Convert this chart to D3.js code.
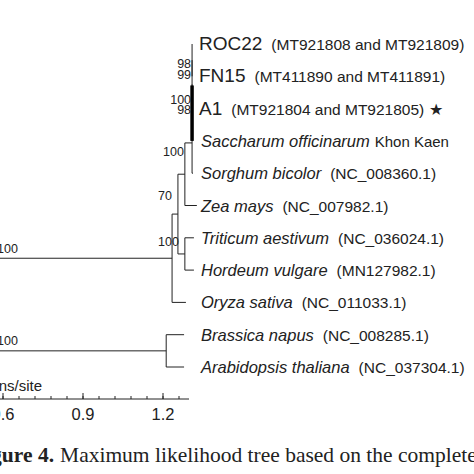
<!DOCTYPE html>
<html><head><meta charset="utf-8">
<script src="https://cdn.jsdelivr.net/npm/d3@7"></script>
<style>body{margin:0;background:#fff}svg{display:block}</style>
</head><body><svg id="c" width="474" height="474"></svg>
<script>
// tips (top to bottom)
const tipNames = ["ROC22","FN15","A1","Saccharum officinarum","Sorghum bicolor","Zea mays","Triticum aestivum","Hordeum vulgare","Oryza sativa","Brassica napus","Arabidopsis thaliana"];
const tipItalic = [false,false,false,true,true,true,true,true,true,true,true];
const tipSuffix = ["(MT921808 and MT921809)","(MT411890 and MT411891)","(MT921804 and MT921805) \u2605","Khon Kaen","(NC_008360.1)","(NC_007982.1)","(NC_036024.1)","(MN127982.1)","(NC_011033.1)","(NC_008285.1)","(NC_037304.1)"];
const tipX = [1.309,1.309,1.309,1.309,1.3125,1.327,1.316,1.316,1.286,1.279,1.279];
// internal nodes
const nodeNames = ["n1","n2","n3","nA","nB","nT","nC","nD","nBr","root"];
const nodeX     = [1.309,1.309,1.309,1.309,1.282,1.282,1.256,1.234,1.212,0.5];
const nodeKids  = [["ROC22","FN15"],["n1","A1"],["n2","Saccharum officinarum"],["n3","Sorghum bicolor"],["nA","Zea mays"],["Triticum aestivum","Hordeum vulgare"],["nB","nT"],["nC","Oryza sativa"],["Brassica napus","Arabidopsis thaliana"],["nD","nBr"]];
const nodeBoot  = ["98","99","100","98","100","100","70","100","100",""];
const axisTicks = [0.6,0.9,1.2];

const svg = d3.select("#c");
const x = d3.scaleLinear().domain([0.6,1.2]).range([3,163]);
const y = d3.scaleLinear().domain([0,10]).range([44,367]);

const pos = {};
tipNames.forEach((n,i)=>pos[n]={x:tipX[i],y:y(i)});
nodeNames.forEach((n,i)=>{
  const ys = nodeKids[i].map(k=>pos[k].y);
  pos[n]={x:nodeX[i],y:(d3.min(ys)+d3.max(ys))/2,kids:nodeKids[i],boot:nodeBoot[i]};
});
const g = svg.append("g").attr("stroke","#222").attr("stroke-width",1).attr("fill","none");
nodeNames.forEach(n=>{
  const p = pos[n];
  if(n==="root"){
    p.kids.forEach(k=>g.append("line").attr("x1",x(p.x)).attr("x2",x(pos[k].x)).attr("y1",pos[k].y).attr("y2",pos[k].y));
    return;
  }
  const ys = p.kids.map(k=>pos[k].y);
  g.append("line").attr("x1",x(p.x)).attr("x2",x(p.x)).attr("y1",d3.min(ys)).attr("y2",d3.max(ys));
  p.kids.forEach(k=>{ if(pos[k].x>p.x) g.append("line").attr("x1",x(p.x)).attr("x2",x(pos[k].x)).attr("y1",pos[k].y).attr("y2",pos[k].y);});
});
g.append("line").attr("x1",x(1.309)).attr("x2",x(1.309)).attr("y1",(y(1)+y(2))/2-7).attr("y2",y(3)).attr("stroke","#000").attr("stroke-width",3.5);

const bootPos = {n1:y(1)-8,n2:y(1)+3,n3:y(2)-5,nA:y(2)+5,nB:y(3)+15,nT:y(6)+8,nC:y(5)-6};
const tx = svg.append("g").attr("font-family","Liberation Sans, Arial, sans-serif").attr("fill","#222");
["n1","n2","n3","nA","nB","nT","nC"].forEach(n=>{
  tx.append("text").attr("x",x(pos[n].x)-1+(n==="nT"?-5:0)+(n==="nC"?-5:0)).attr("y",bootPos[n]).attr("text-anchor","end").attr("font-size",12.5).text(pos[n].boot);
});
tx.append("text").attr("x",-3).attr("y",pos.nD.y-5).attr("font-size",12.5).text("100");
tx.append("text").attr("x",-3).attr("y",pos.nBr.y-6).attr("font-size",12.5).text("100");

tipNames.forEach((n,i)=>{
  const t = tx.append("text").attr("x",i<3?199:201).attr("y",y(i)+6);
  t.append("tspan").attr("font-size",i<3?19:16.5).attr("font-style",tipItalic[i]?"italic":"normal").text(n);
  t.append("tspan").attr("font-size",i===3?15:15.5).attr("dx",i===3?5:9).text(tipSuffix[i]);
});

const ax = svg.append("g").attr("transform","translate(0,399)");
ax.append("line").attr("x1",0).attr("x2",189).attr("y1",0).attr("y2",0).attr("stroke","#222");
d3.range(0.54,1.30,0.06).forEach(v=>ax.append("line").attr("x1",x(v)).attr("x2",x(v)).attr("y1",0).attr("y2",-3).attr("stroke","#222"));
axisTicks.forEach(v=>{
  ax.append("line").attr("x1",x(v)).attr("x2",x(v)).attr("y1",0).attr("y2",-6).attr("stroke","#222");
  ax.append("text").attr("x",x(v)).attr("y",21).attr("text-anchor","middle").attr("font-family","Liberation Sans, Arial, sans-serif").attr("font-size",16.5).attr("fill","#222").text(v.toFixed(1));
});
tx.append("text").attr("x",42).attr("y",391).attr("text-anchor","end").attr("font-size",15).text("substitutions/site");

const cap = svg.append("text").attr("x",-28).attr("y",462).attr("font-family","Liberation Serif, Times New Roman, serif").attr("font-size",21.5).attr("fill","#222");
cap.append("tspan").attr("font-weight","bold").text("Figure 4.");
cap.append("tspan").attr("dx",6).text("Maximum likelihood tree based on the complete");
</script></body></html>
